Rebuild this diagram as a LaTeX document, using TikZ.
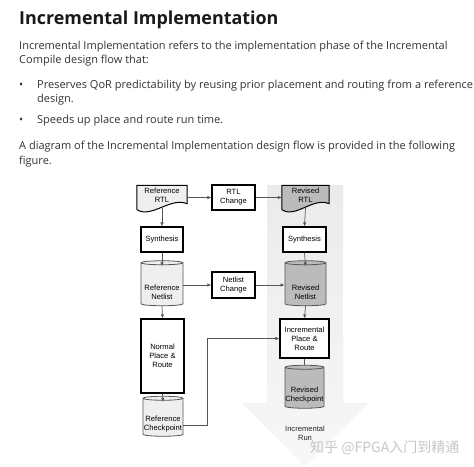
\documentclass[tikz,border=0pt]{standalone}
\usepackage{fontspec}
\setmainfont{Open Sans}
\newfontfamily\diagfont{Liberation Sans}
\newfontfamily\cjkfont{Noto Sans CJK SC}
\usetikzlibrary{arrows.meta, shapes.geometric, backgrounds, calc}
\usepackage{xcolor}

\definecolor{bodytxt}{HTML}{333333}
\definecolor{linegray}{HTML}{555555}
\definecolor{lightfill}{HTML}{EFEFEF}
\definecolor{darkfill}{HTML}{BBBBBB}

\begin{document}
\begin{tikzpicture}[x=1pt, y=-1pt,
            txt/.style = {anchor=base west, inner sep=0pt, text=bodytxt, font=\fontsize{11}{13}\selectfont},
            box/.style = {rectangle, draw, line width=1.1pt, fill=white, align=center, inner sep=1pt,
                          font=\diagfont\fontsize{7.6}{9}\selectfont},
            doc/.style = {rectangle, minimum width=50pt, minimum height=24pt, inner sep=0pt},
            doclabel/.style = {yshift=2pt, inner sep=0pt, align=center, font=\diagfont\fontsize{7.6}{9}\selectfont},
            db/.style = {cylinder, shape border rotate=90, aspect=0.6, draw=linegray, line width=0.8pt},
            dblabel/.style = {yshift=-7pt, inner sep=0pt, align=center, font=\diagfont\fontsize{7.6}{9}\selectfont},
            arrow/.style = {draw=linegray, line width=0.7pt, -{Latex[length=4pt, width=3.5pt]}}]
            \useasboundingbox (0,0) rectangle (474,466);
            % text
            \node (title) [anchor=base west, inner sep=0pt, font=\bfseries\fontsize{17.9}{20}\selectfont, text=black!90] at (19,24) {Incremental Implementation};
            \node (intro1) [txt] at (19,49) {Incremental Implementation refers to the implementation phase of the Incremental};
            \node (intro2) [txt] at (19,63.5) {Compile design flow that:};
            \node (bulA) [txt] at (19,88) {•};
            \node (itemA1) [txt] at (37,88) {Preserves QoR predictability by reusing prior placement and routing from a reference};
            \node (itemA2) [txt] at (37,102.5) {design.};
            \node (bulB) [txt] at (19,123) {•};
            \node (itemB) [txt] at (37,123) {Speeds up place and route run time.};
            \node (lead1) [txt] at (19,149.5) {A diagram of the Incremental Implementation design flow is provided in the following};
            \node (lead2) [txt] at (19,164) {figure.};
            % nodes
            \node (refrtl) [doc, label={[doclabel]center:Reference\\RTL}] at (162,197.5) {};
            \node (rtlchg) [box, minimum width=43pt, minimum height=25pt] at (233.5,197.5) {RTL\\Change};
            \node (revrtl) [doc, minimum width=47pt, label={[doclabel]center:Revised\\RTL}] at (305.5,197.5) {};
            \node (synL) [box, minimum width=42pt, minimum height=25pt] at (162,239.5) {Synthesis};
            \node (synR) [box, minimum width=43pt, minimum height=25pt] at (304.5,239.5) {Synthesis};
            \node (refnet) [db, fill=lightfill, minimum width=42pt, minimum height=45pt,
                            label={[dblabel]center:Reference\\Netlist}] at (162,285) {};
            \node (netchg) [box, minimum width=43pt, minimum height=26pt] at (233.5,285) {Netlist\\Change};
            \node (revnet) [db, fill=darkfill, minimum width=41pt, minimum height=45pt,
                            label={[dblabel]center:Revised\\Netlist}] at (305.5,285) {};
            \node (npr) [box, minimum width=43pt, minimum height=74pt] at (162.5,356) {Normal\\Place \&\\Route};
            \node (refcp) [db, fill=lightfill, minimum width=40pt, minimum height=40pt,
                           label={[dblabel, yshift=1pt]center:Reference\\Checkpoint}] at (163,418) {};
            \node (ipr) [box, minimum width=49pt, minimum height=39pt] at (304.5,338.5) {Incremental\\Place \&\\Route};
            \node (revcp) [db, fill=darkfill, minimum width=39pt, minimum height=43pt,
                           label={[dblabel]center:Revised\\Checkpoint}] at (304.5,388.5) {};
            \node (incrun) [align=center, inner sep=0pt, text=black!85, font=\diagfont\fontsize{7.6}{9}\selectfont] at (305,433) {Incremental\\Run};
            \node (mark) [anchor=base west, inner sep=0pt, text=black!22, font=\cjkfont\fontsize{14}{16}\selectfont] at (310,452) {知乎 @FPGA入门到精通};
            % background: flow arrow and document shapes
            \begin{scope}[on background layer]
            \fill [white] (0,0) rectangle (474,466);
            \shade [top color=gray!16, bottom color=gray!6] (267,185) -- (343,185) -- (343,403) -- (368,403)
                  -- (305,466) -- (242,403) -- (267,403) -- cycle;
            \filldraw [fill=lightfill, line width=1pt] (refrtl.south west) -- (refrtl.north west) -- (refrtl.north east)
                  -- ([yshift=6pt]refrtl.south east) .. controls +(-17,-7) and +(15,9) .. (refrtl.south west);
            \filldraw [fill=darkfill, line width=1pt] (revrtl.south west) -- (revrtl.north west) -- (revrtl.north east)
                  -- ([yshift=6pt]revrtl.south east) .. controls +(-16,-7) and +(14,9) .. (revrtl.south west);
            \end{scope}
            % Connections
            \draw [arrow] (refrtl.east) -- (rtlchg.west);
            \draw [arrow] (rtlchg.east) -- (revrtl.west);
            \draw [arrow] ([yshift=2pt]refrtl.south) -- (synL.north);
            \draw [arrow] ([yshift=2pt]revrtl.south) -- (synR.north);
            \draw [arrow] (synL.south) -- ([yshift=-6pt]refnet.top);
            \draw [arrow] (synR.south) -- ([yshift=-6pt]revnet.top);
            \draw [arrow] (refnet.east) -- (netchg.west);
            \draw [arrow] (netchg.east) -- (revnet.west);
            \draw [arrow] (refnet.bottom) -- (npr.north);
            \draw [arrow] (revnet.bottom) -- (ipr.north);
            \draw [arrow] (npr.south) -- ([yshift=-6pt]refcp.top);
            \draw [draw=linegray, line width=0.7pt] (ipr.south) -- (revcp.top);
            \draw [arrow] ([yshift=-7pt]refcp.east) -- ++(24,0) |- (ipr.west);
        \end{tikzpicture}
\end{document}
